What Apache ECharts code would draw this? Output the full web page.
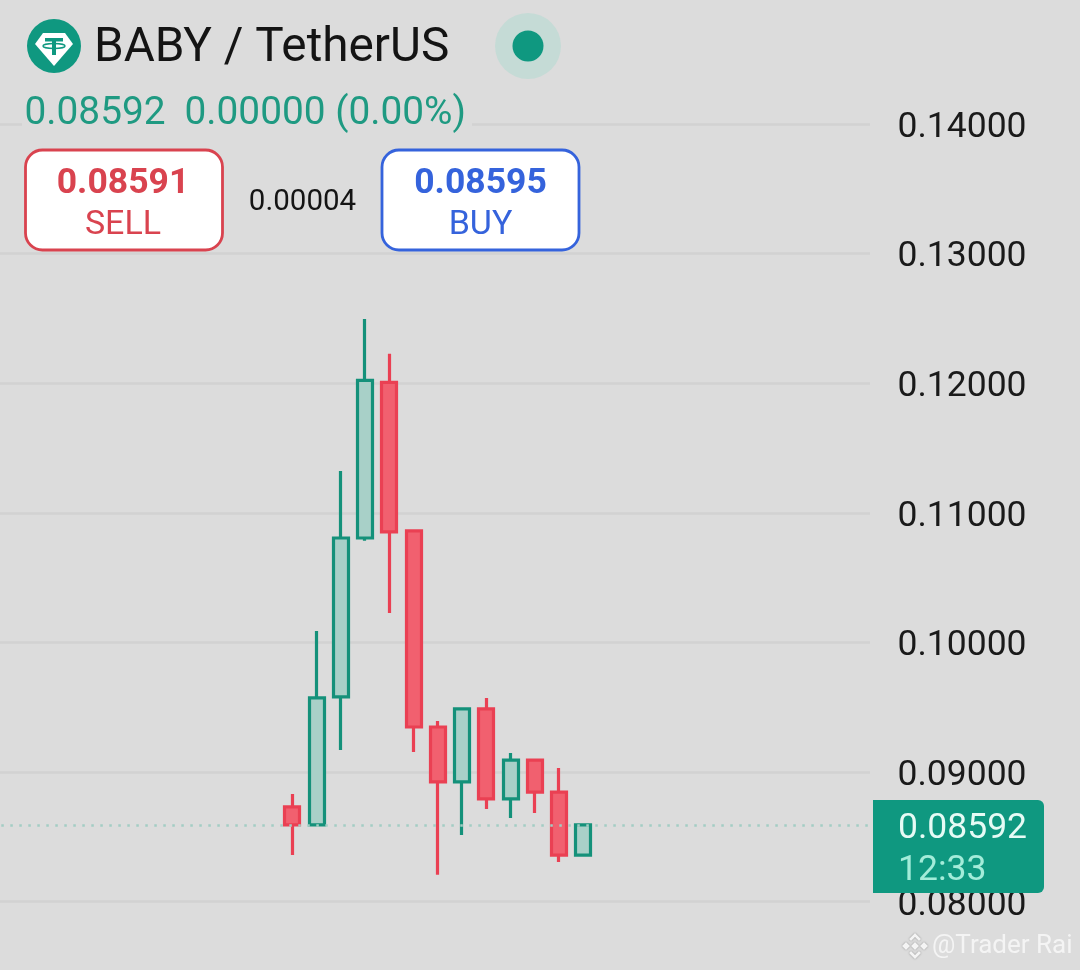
<!DOCTYPE html>
<html>
	<head>
		<meta charset="UTF-8">
		<title>BABY / TetherUS</title>
		<style type="text/css">
			html, body { margin: 0; padding: 0; background: #dcdcdc; }
			#chart { width: 1080px; height: 970px; }
		</style>
	</head>
	<body>
		<div id="chart"></div>
		<script src="https://cdn.jsdelivr.net/npm/echarts@6/dist/echarts.min.js"></script>
		<script type="text/javascript">
			// candles, left to right
			var opens  = [0.08731, 0.08592, 0.09580, 0.10806, 0.12007, 0.10861, 0.09348, 0.08924, 0.09487, 0.08793, 0.09093, 0.08846, 0.08360];
			var closes = [0.08592, 0.09572, 0.10806, 0.12022, 0.10853, 0.09348, 0.08924, 0.09487, 0.08793, 0.09093, 0.08846, 0.08360, 0.08592];
			var lows   = [0.08360, 0.08592, 0.09171, 0.10785, 0.10228, 0.09155, 0.08207, 0.08515, 0.08715, 0.08646, 0.08684, 0.08306, 0.08360];
			var highs  = [0.08831, 0.10089, 0.11323, 0.12496, 0.12227, 0.10861, 0.09394, 0.09498, 0.09572, 0.09147, 0.09093, 0.09032, 0.08598];

			// empty slots on both sides of the candles
			var slotsBefore = 12;
			var slotsAfter = 12;

			var lastPrice = 0.08592;
			var priceTicks = [0.08, 0.14, 0.01]; // min, max, step

			var GREEN = '#14917a';
			var GREEN_FILL = '#a8d0c8';
			var RED = '#ea4053';
			var RED_FILL = '#f1606f';
			var FONT = 'Roboto';

			var slots = [];
			var candles = [];
			var i;
			for (i = 0; i < slotsBefore + opens.length + slotsAfter; i++) {
				slots.push(String(i));
				var c = i - slotsBefore;
				if (c >= 0 && c < opens.length) {
					candles.push([opens[c], closes[c], lows[c], highs[c]]);
				} else {
					candles.push(['-', '-', '-', '-']);
				}
			}

			function label(x, y, text, size, color, align, weight) {
				return {
					type: 'text',
					x: x,
					y: y + 3.5,
					z: 20,
					style: {
						text: text,
						fontFamily: FONT,
						fontSize: size,
						fontWeight: weight || 'normal',
						fill: color,
						align: align || 'left',
						verticalAlign: 'middle'
					}
				};
			}

			function button(x, color) {
				return {
					type: 'rect',
					z: 15,
					shape: { x: x, y: 150, width: 197, height: 100, r: 17 },
					style: { fill: '#fff', stroke: color, lineWidth: 2.8 }
				};
			}

			function mark(points) {
				return { type: 'polygon', z: 20, shape: { points: points }, style: { fill: '#f4f4f4', shadowColor: '#8a8a8a', shadowBlur: 2 } };
			}

			var watermark = label(932, 943, '@Trader Rai', 26, '#f4f4f4');
			watermark.style.shadowColor = '#8a8a8a';
			watermark.style.shadowBlur = 2;

			var chart = echarts.init(document.getElementById('chart'));
			var option = {
				backgroundColor: '#dcdcdc',
				animation: false,
				grid: [
					// price scale and its lines
					{ left: 0, width: 870, top: 124, height: 777.7 },
					// candles
					{ left: 1.3, width: 873, top: 124, height: 777.7 }
				],
				xAxis: [
					{ type: 'category', gridIndex: 0, data: slots, show: false },
					{ type: 'category', gridIndex: 1, data: slots, show: false, boundaryGap: false }
				],
				yAxis: [
					{
						type: 'value',
						gridIndex: 0,
						position: 'right',
						min: priceTicks[0],
						max: priceTicks[1],
						interval: priceTicks[2],
						axisLine: { show: false },
						axisTick: { show: false },
						splitLine: { show: true, lineStyle: { color: '#d2d2d2', width: 2.5 } },
						axisLabel: {
							margin: 27.5,
							formatter: function (v) { return '{p|' + v.toFixed(5) + '}'; },
							rich: {
								p: { fontFamily: FONT, fontSize: 35.5, color: '#1a1a1a', padding: [8, 0, 0, 0] }
							}
						}
					},
					{
						type: 'value',
						gridIndex: 1,
						min: priceTicks[0],
						max: priceTicks[1],
						show: false
					}
				],
				series: [{
					type: 'candlestick',
					xAxisIndex: 1,
					yAxisIndex: 1,
					barWidth: 15.5,
					data: candles,
					itemStyle: {
						color: GREEN_FILL,
						color0: RED_FILL,
						borderColor: GREEN,
						borderColor0: RED,
						borderWidth: 3.2
					},
					markLine: {
						silent: true,
						symbol: 'none',
						label: { show: false },
						lineStyle: { color: '#a3cdc4', type: [2.5, 6.5], width: 2.5 },
						data: [[
							{ xAxis: '0', yAxis: lastPrice },
							{ xAxis: slots[slots.length - 1], yAxis: lastPrice }
						]]
					}
				}],
				graphic: [
					// header background hides the grid line behind the quote text
					{ type: 'rect', z: 10, shape: { x: 22, y: 92, width: 450, height: 40 }, style: { fill: '#dcdcdc' } },

					// tether logo
					{ type: 'circle', z: 15, shape: { cx: 54, cy: 46, r: 27 }, style: { fill: '#0f9880' } },
					{ type: 'polygon', z: 16, shape: { points: [[43, 33], [65, 33], [73, 44], [54, 66], [35, 44]] }, style: { fill: '#fff' } },
					{ type: 'rect', z: 17, shape: { x: 45, y: 38, width: 18, height: 3.5 }, style: { fill: '#0f9880' } },
					{ type: 'rect', z: 17, shape: { x: 52, y: 38, width: 4, height: 17 }, style: { fill: '#0f9880' } },
					{ type: 'ellipse', z: 17, shape: { cx: 54, cy: 46, rx: 11, ry: 2.5 }, style: { fill: 'none', stroke: '#0f9880', lineWidth: 1.5 } },

					label(94, 46, 'BABY / TetherUS', 47.7, '#141414'),

					// market status dot
					{ type: 'circle', z: 15, shape: { cx: 528, cy: 46, r: 33 }, style: { fill: '#c5dbd6' } },
					{ type: 'circle', z: 16, shape: { cx: 528, cy: 46, r: 15.5 }, style: { fill: '#0f9880' } },

					label(24.5, 111, '0.08592', 38.8, '#1f9a82'),
					label(184.5, 111, '0.00000 (0.00%)', 38.8, '#1f9a82'),

					button(25.5, '#d9434f'),
					label(123, 181, '0.08591', 35.5, '#d9434f', 'center', 'bold'),
					label(123, 222, 'SELL', 34, '#d9434f', 'center'),

					label(302.5, 199, '0.00004', 29.5, '#141414', 'center'),

					button(382, '#3563dc'),
					label(480.5, 181, '0.08595', 35.5, '#3563dc', 'center', 'bold'),
					label(480.5, 222, 'BUY', 34, '#3563dc', 'center'),

					// last price tag
					{ type: 'rect', z: 15, shape: { x: 873, y: 800, width: 171, height: 93, r: [0, 6, 6, 0] }, style: { fill: '#0f9880' } },
					label(898, 826, '0.08592', 35.5, '#e6fbf5'),
					label(898, 868, '12:33', 35.5, '#a3ecd9'),

					// watermark
					mark([[915, 933], [921, 939], [919, 941], [915, 937], [911, 941], [909, 939]]),
					mark([[915, 942], [919, 946], [915, 950], [911, 946]]),
					mark([[906, 942], [910, 946], [906, 950], [902, 946]]),
					mark([[924, 942], [928, 946], [924, 950], [920, 946]]),
					mark([[915, 959], [909, 953], [911, 951], [915, 955], [919, 951], [921, 953]]),
					watermark
				]
			};
			chart.setOption(option);
		</script>
	</body>
</html>
